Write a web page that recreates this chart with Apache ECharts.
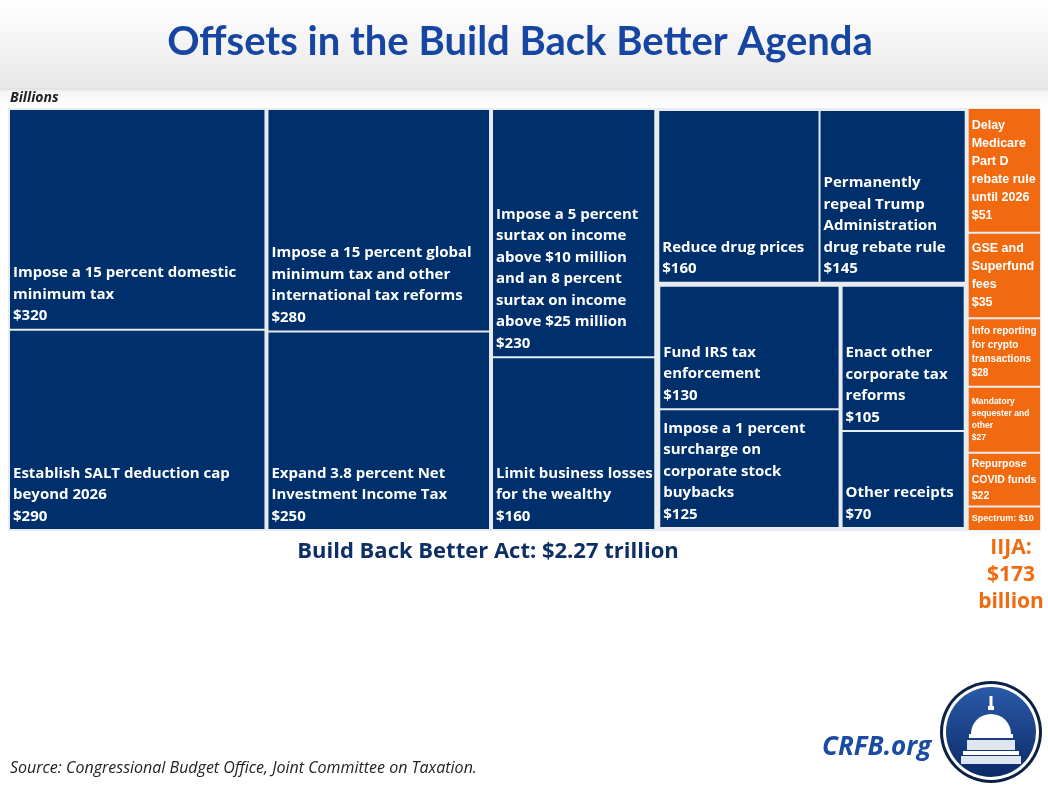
<!DOCTYPE html>
<html>
<head>
<meta charset="utf-8">
<script src="https://cdn.jsdelivr.net/npm/echarts@6/dist/echarts.min.js"></script>
<style>
html,body{margin:0;padding:0;background:#fff;}
#chart{width:1048px;height:786px;}
</style>
</head>
<body>
<div id="chart"></div>
<script>
// ---- Data (billions of dollars) ----
const bbbCategories = [
  'Impose a 15 percent domestic\nminimum tax',
  'Establish SALT deduction cap\nbeyond 2026',
  'Impose a 15 percent global\nminimum tax and other\ninternational tax reforms',
  'Expand 3.8 percent Net\nInvestment Income Tax',
  'Impose a 5 percent\nsurtax on income\nabove $10 million\nand an 8 percent\nsurtax on income\nabove $25 million',
  'Limit business losses\nfor the wealthy',
  'Reduce drug prices',
  'Permanently\nrepeal Trump\nAdministration\ndrug rebate rule',
  'Fund IRS tax\nenforcement',
  'Impose a 1 percent\nsurcharge on\ncorporate stock\nbuybacks',
  'Enact other\ncorporate tax\nreforms',
  'Other receipts'
];
const bbbValues = [320, 290, 280, 250, 230, 160, 160, 145, 130, 125, 105, 70];

const iijaCategories = [
  'Delay\nMedicare\nPart D\nrebate rule\nuntil 2026',
  'GSE and\nSuperfund\nfees',
  'Info reporting\nfor crypto\ntransactions',
  'Mandatory\nsequester and\nother',
  'Repurpose\nCOVID funds',
  'Spectrum:'
];
const iijaValues = [51, 35, 28, 27, 22, 10];

// grouping of BBB items (indices) as in the original layout
const bbbGroups = [[0, 1], [2, 3], [4, 5], [[6, 7], [[8, 9], [10, 11]]]];

const NAVY = '#00306b';
const ORANGE = '#f26a10';
const iijaFont = [12.5, 12.5, 10, 8.5, 10.5, 9];
const iijaLine = [18, 18, 14, 12, 16, 13];

function bbbLeaf(i) {
  return {
    name: bbbCategories[i],
    value: bbbValues[i],
    itemStyle: { color: NAVY }
  };
}
function buildGroup(g) {
  if (typeof g === 'number') return bbbLeaf(g);
  const children = g.map(buildGroup);
  const v = children.reduce((s, c) => s + c.value, 0);
  return { name: '', value: v, children: children };
}
const bbbNode = buildGroup(bbbGroups);
bbbNode.name = 'Build Back Better Act';

const iijaChildren = iijaCategories.map((n, i) => ({
  name: n,
  value: iijaValues[i],
  itemStyle: { color: ORANGE },
  label: {
    position: 'insideLeft',
    fontFamily: "'Liberation Sans', Arial, sans-serif",
    fontSize: iijaFont[i],
    lineHeight: iijaLine[i],
    fontWeight: 'bold',
    padding: [0, 0, 0, 3],
    formatter: (p) => (i === 5 ? p.name + ' $' + p.value : p.name + '\n$' + p.value)
  }
}));
const iijaNode = {
  name: 'IIJA',
  value: iijaValues.reduce((s, v) => s + v, 0),
  children: iijaChildren
};

const chart = echarts.init(document.getElementById('chart'), null, { renderer: 'canvas' });

const option = {
  backgroundColor: '#ffffff',
  animation: false,
  graphic: [
    {
      type: 'rect', silent: true, z: -1,
      shape: { x: 0, y: 0, width: 1048, height: 88 },
      style: {
        fill: new echarts.graphic.LinearGradient(0, 0, 0, 1, [
          { offset: 0, color: '#ffffff' },
          { offset: 1, color: '#e8e8e8' }
        ])
      }
    },
    {
      type: 'rect', silent: true, z: -1,
      shape: { x: 0, y: 88, width: 1048, height: 20 },
      style: {
        fill: new echarts.graphic.LinearGradient(0, 0, 0, 1, [
          { offset: 0, color: '#dedede' },
          { offset: 0.2, color: '#f6f6f6' },
          { offset: 1, color: '#ffffff' }
        ])
      }
    },
    {
      type: 'text', silent: true,
      style: {
        text: 'Offsets in the Build Back Better Agenda',
        x: 520, y: 42, textAlign: 'center', textVerticalAlign: 'middle',
        font: "bold 40px Lato, 'Open Sans', sans-serif", fill: '#1746a2'
      }
    },
    {
      type: 'text', silent: true,
      style: {
        text: 'Billions', x: 10, y: 98, textVerticalAlign: 'middle',
        font: "italic bold 14px 'Open Sans', sans-serif", fill: '#222222'
      }
    },
    {
      type: 'text', silent: true,
      style: {
        text: 'Build Back Better Act: $2.27 trillion', x: 488, y: 552,
        textAlign: 'center', textVerticalAlign: 'middle',
        font: "bold 22px 'Open Sans', sans-serif", fill: '#0c2f66'
      }
    },
    {
      type: 'text', silent: true,
      style: {
        text: 'IIJA:\n$173\nbillion', x: 1011, y: 575,
        textAlign: 'center', textVerticalAlign: 'middle', lineHeight: 27,
        font: "bold 21px 'Open Sans', sans-serif", fill: ORANGE
      }
    },
    {
      type: 'text', silent: true,
      style: {
        text: 'Source: Congressional Budget Office, Joint Committee on Taxation.',
        x: 10, y: 768, textVerticalAlign: 'middle',
        font: "italic 16px 'Open Sans', sans-serif", fill: '#222222'
      }
    },
    {
      type: 'text', silent: true,
      style: {
        text: 'CRFB.org', x: 822, y: 748, textVerticalAlign: 'middle',
        font: "italic bold 26px 'Open Sans', sans-serif", fill: '#1b4ba3'
      }
    },
    // logo
    {
      type: 'group', silent: true, x: 991, y: 732,
      children: [
        { type: 'circle', shape: { cx: 0, cy: 0, r: 51 }, style: { fill: '#0d2146' } },
        { type: 'circle', shape: { cx: 0, cy: 0, r: 48 }, style: { fill: '#ffffff' } },
        {
          type: 'circle', shape: { cx: 0, cy: 0, r: 45 },
          style: {
            fill: new echarts.graphic.LinearGradient(0, 0, 0, 1, [
              { offset: 0, color: '#2a5aa8' },
              { offset: 1, color: '#0b2a66' }
            ])
          }
        },
        { type: 'rect', shape: { x: -1.5, y: -36, width: 3, height: 10 }, style: { fill: '#ffffff' } },
        { type: 'rect', shape: { x: -3, y: -26, width: 6, height: 4 }, style: { fill: '#ffffff' } },
        { type: 'sector', shape: { cx: 0, cy: 2, r: 20, startAngle: Math.PI, endAngle: 2 * Math.PI }, style: { fill: '#ffffff' } },
        { type: 'rect', shape: { x: -22, y: 2, width: 44, height: 4 }, style: { fill: '#ffffff' } },
        { type: 'rect', shape: { x: -24, y: 8, width: 48, height: 10 }, style: { fill: '#dfe6f2' } },
        { type: 'rect', shape: { x: -28, y: 19, width: 56, height: 4 }, style: { fill: '#ffffff' } },
        { type: 'rect', shape: { x: -30, y: 24, width: 60, height: 8 }, style: { fill: '#dfe6f2' } }
      ]
    }
  ],
  series: [
    {
      type: 'treemap',
      left: 8, top: 108, width: 1033, height: 423,
      roam: false,
      nodeClick: false,
      sort: null,
      squareRatio: 1,
      visibleMin: 0,
      breadcrumb: { show: false },
      itemStyle: { borderWidth: 0, gapWidth: 0, borderColor: '#e8ebf0' },
      upperLabel: { show: false },
      label: {
        show: true,
        position: 'insideBottomLeft',
        color: '#ffffff',
        fontFamily: "'Open Sans', sans-serif",
        fontWeight: 'bold',
        fontSize: 15,
        lineHeight: 21.5,
        padding: [0, 0, 2, 3],
        overflow: 'none',
        formatter: (p) => p.name + '\n$' + p.value
      },
      levels: [
        { itemStyle: { borderWidth: 0, gapWidth: 0 } },
        { itemStyle: { borderWidth: 0, gapWidth: 0 } },
        { itemStyle: { borderWidth: 1, gapWidth: 0, borderColor: '#e8ebf0' } },
        { itemStyle: { borderWidth: 1, gapWidth: 0, borderColor: '#e8ebf0' } },
        { itemStyle: { borderWidth: 1, gapWidth: 0, borderColor: '#e8ebf0' } },
        { itemStyle: { borderWidth: 1, gapWidth: 0, borderColor: '#e8ebf0' } }
      ],
      data: [bbbNode, iijaNode]
    }
  ]
};
chart.setOption(option);
</script>
</body>
</html>
